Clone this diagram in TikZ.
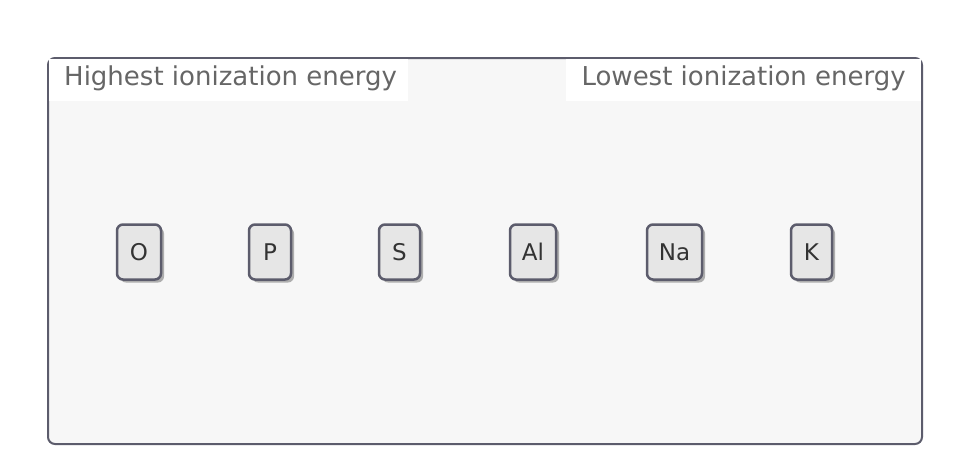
\documentclass[tikz,border=0pt]{standalone}
\usepackage{fontspec}
\setmainfont{DejaVu Sans}
\usetikzlibrary{shadows}
\definecolor{frame}{HTML}{5C5C6C}
\definecolor{panel}{HTML}{F7F7F7}
\definecolor{keyfill}{HTML}{E6E6E6}
\definecolor{labeltxt}{HTML}{666666}
\begin{document}
\begin{tikzpicture}[x=1pt,y=-1pt,
  keybox/.style={draw=frame, line width=2.5pt, fill=keyfill, rounded corners=6pt,
    minimum height=55pt, inner sep=0pt, font=\fontsize{23}{27}\selectfont, text=black!80,
    drop shadow={shadow xshift=3pt, shadow yshift=-3pt, opacity=0.5, fill=black!60}},
  headlabel/.style={inner sep=0pt, font=\fontsize{26}{31}\selectfont, text=labeltxt}]
\useasboundingbox (0,0) rectangle (964,458);
\fill[white] (0,0) rectangle (964,458);
\node[draw=frame, line width=2pt, fill=panel, rounded corners=7pt, minimum width=874pt, minimum height=386pt, inner sep=0pt] (panel) at (485,251) {};
\fill[white] (49,59) rectangle (408,101);
\fill[white] (566,59) rectangle (921,101);
\node[headlabel, anchor=west] (hi) at (64,78) {Highest ionization energy};
\node[headlabel, anchor=east] (lo) at (906,78) {Lowest ionization energy};
\node[keybox, minimum width=44pt] (O) at (139,252) {O};
\node[keybox, minimum width=42pt] (P) at (270,252) {P};
\node[keybox, minimum width=41pt] (S) at (399.5,252) {S};
\node[keybox, minimum width=46pt] (Al) at (533,252) {Al};
\node[keybox, minimum width=55pt] (Na) at (674.5,252) {Na};
\node[keybox, minimum width=41pt] (K) at (811.5,252) {K};
\end{tikzpicture}
\end{document}
